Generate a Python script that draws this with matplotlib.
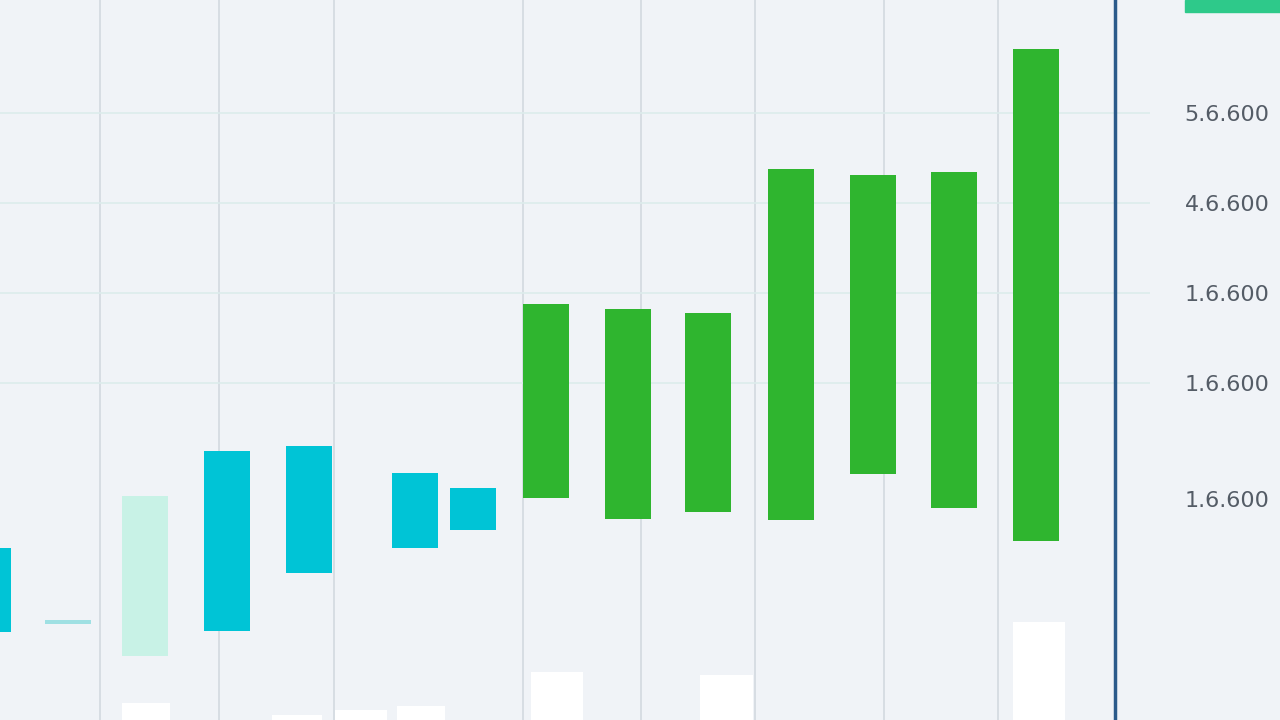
import matplotlib.pyplot as plt
from matplotlib.patches import Rectangle

# candle bodies (x position, body low, body high)
candle_x = [-12, 68, 145, 227, 309, 415, 473, 546, 628, 708, 791, 873, 954, 1036]
body_low = [88, 96, 64, 89, 147, 172, 190, 222, 201, 208, 200, 246, 212, 179]
body_high = [172, 100, 224, 269, 274, 247, 232, 416, 411, 407, 551, 545, 548, 671]
body_color = ['#00c4d6', '#9fe0e3', '#c8f2e6', '#00c4d6', '#00c4d6', '#00c4d6', '#00c4d6',
              '#2fb52f', '#2fb52f', '#2fb52f', '#2fb52f', '#2fb52f', '#2fb52f', '#2fb52f']

# volume bars
vol_x = [146, 297, 361, 421, 557, 726, 1039]
vol_h = [17, 5, 10, 14, 48, 45, 98]
vol_w = [48, 50, 52, 48, 52, 53, 52]

# axis
grid_x = [100, 219, 334, 523, 641, 755, 884, 998]
major_y = [607, 517, 427, 337]
major_labels = ['5.6.600', '4.6.600', '1.6.600', '1.6.600']
minor_y = [221]
minor_labels = ['1.6.600']

bg = '#f0f3f7'
fig = plt.figure(figsize=(12.8, 7.2), dpi=100, facecolor=bg)
ax = fig.add_axes([0, 0, 1150 / 1280, 1])
ax.set_facecolor(bg)

heights = [h - l for l, h in zip(body_low, body_high)]
ax.bar(candle_x, heights, bottom=body_low, width=46, color=body_color, zorder=3)
ax.bar(vol_x, vol_h, width=vol_w, color='white', zorder=2)

ax.set_xlim(0, 1150)
ax.set_ylim(0, 720)
ax.axvline(1115, color='#2b5a8a', lw=2.5, zorder=4)

ax.set_xticks(grid_x)
ax.set_xticklabels([])
ax.xaxis.grid(True, color='#d3d9df', lw=1.2, zorder=0)

ax.yaxis.tick_right()
ax.set_yticks(major_y)
ax.set_yticklabels(major_labels)
ax.set_yticks(minor_y, minor=True)
ax.set_yticklabels(minor_labels, minor=True)
ax.yaxis.grid(True, which='major', color='#dcecec', lw=1.2, zorder=0)
ax.tick_params(axis='both', which='both', length=0)
ax.tick_params(axis='y', which='both', pad=25, labelsize=16, labelcolor='#545c66')
ax.set_axisbelow(True)

for s in ax.spines.values():
    s.set_visible(False)

# teal block top right
fig.patches.append(Rectangle((1185 / 1280, 708 / 720), 95 / 1280, 12 / 720,
                             transform=fig.transFigure, color='#2ec98a'))

plt.savefig('out.png', dpi=100, facecolor=bg)
